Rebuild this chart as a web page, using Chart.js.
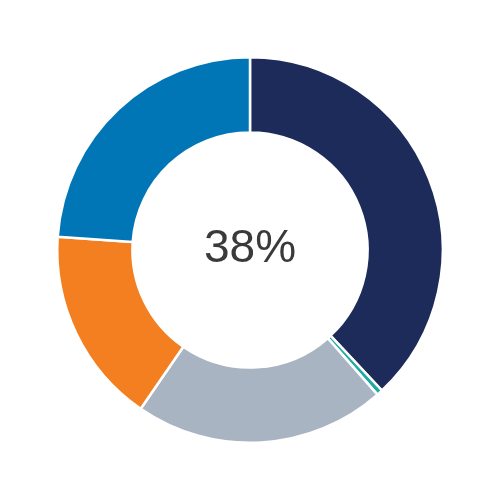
<!DOCTYPE html>
<html>
<head>
<meta charset="utf-8">
<script src="https://cdn.jsdelivr.net/npm/chart.js@4"></script>
<style>
  html, body { margin: 0; padding: 0; background: #fff; }
  #wrap { width: 500px; height: 500px; }
</style>
</head>
<body>
<div id="wrap"><canvas id="donut"></canvas></div>
<script>
const categories = ['A', 'B', 'C', 'D', 'E'];
const values = [38, 0.5, 21.1, 16.5, 23.9];
const colors = ['#1c2b5a', '#1fa9a4', '#a9b4c3', '#f47f20', '#0076b6'];
const centerLabel = '38%';

// texte au centre
const centerText = {
  id: 'centerText',
  afterDraw(chart) {
    const ctx = chart.ctx;
    const meta = chart.getDatasetMeta(0).data[0];
    ctx.save();
    ctx.font = '46px "Liberation Sans", Arial, sans-serif';
    ctx.fillStyle = '#3a3a3a';
    ctx.textAlign = 'center';
    ctx.textBaseline = 'middle';
    ctx.fillText(centerLabel, meta.x, meta.y - 1);
    ctx.restore();
  }
};

new Chart(document.getElementById('donut'), {
  type: 'doughnut',
  data: {
    labels: categories,
    datasets: [
      {
        data: values,
        backgroundColor: colors,
        borderColor: '#ffffff',
        borderWidth: 2.5,
      },
    ],
  },
  options: {
    responsive: true,
    maintainAspectRatio: false,
    animation: false,
    cutout: '61%',
    layout: { padding: 56 },
    plugins: {
      legend: { display: false },
      tooltip: { enabled: false },
    },
  },
  plugins: [centerText],
});
</script>
</body>
</html>
